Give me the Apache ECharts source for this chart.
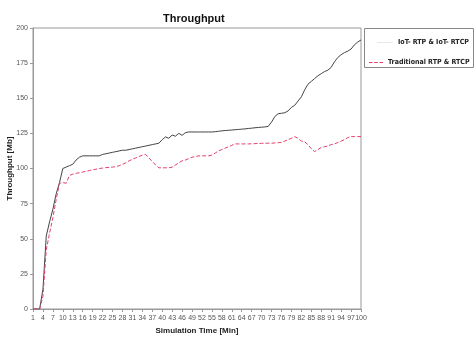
<!DOCTYPE html>
<html>
<head>
<meta charset="utf-8">
<script src="https://cdn.jsdelivr.net/npm/echarts@6/dist/echarts.min.js"></script>
<style>html,body{margin:0;padding:0;background:#fff}#c{width:474px;height:340px}</style>
</head>
<body>
<div id="c"></div>
<script>
var categories = [];
for (var k = 1; k <= 100; k++) categories.push(String(k));

var iotValues = [0,0,0,14,52,62,71,82,90,100,
101,102,103,106,108,109,109,109,109,109,
109,110,110.5,111,111.5,112,112.5,113,113,113.5,
114,114.5,115,115.5,116,116.5,117,117.5,118,120.5,
122.5,121.5,123.8,123,125,123.6,125.5,126,126,126,
126,126,126,126,126,126.2,126.5,126.8,127,127.2,
127.4,127.6,127.8,128,128.2,128.5,128.7,129,129.2,129.4,
129.6,130,133,137,139,139.3,139.7,141,143.5,145,
148,151,156,160,162,164,166,167.5,169,170,
172,176,179,181,182.5,183.5,185,188,190,191.5];

var tradValues = [0,0,0,9,42,54,65,78,89.5,90,
89.5,95,96,96.5,97,97.5,98,98.5,99,99.5,
100,100.3,100.6,100.8,101,101.3,102,103,104,105.5,
106.5,107.5,108.5,109.5,110,107.5,105,102.5,100.5,100.5,
100.5,100.5,101,102.5,104,105.5,106,107,108,108.5,
109,109,109,109,109.5,111,112.5,113.5,114.5,115.5,
116.5,117.5,117.5,117.5,117.5,117.5,117.6,117.7,117.8,117.9,
118,118,118,118.2,118.4,118.5,119.5,120.5,121.5,122.7,
121.5,119.5,119,117,114,112,113.5,115,115.5,116,
117,117.5,118.5,119.5,120.5,122,122.7,122.7,122.7,122.7];

var seriesNames = ['IoT- RTP & IoT- RTCP', 'Traditional RTP & RTCP'];
var yTicks = { min: 0, max: 200, interval: 25 };

var chart = echarts.init(document.getElementById('c'), null, { renderer: 'canvas' });
var fam = 'Liberation Sans';
var cond = '"DejaVu Sans Condensed", "Liberation Sans"';
chart.setOption({
  animation: false,
  backgroundColor: '#ffffff',
  title: {
    text: 'Throughput', left: 158, top: 8,
    textStyle: { fontFamily: fam, fontSize: 11, fontWeight: 'bold', color: '#111' }
  },
  grid: { left: 33, right: 113, top: 28, bottom: 31, show: true, borderColor: '#999', borderWidth: 1, backgroundColor: 'transparent', containLabel: false, outerBoundsMode: 'none' },
  graphic: [{
    type: 'rect', shape: { x: 364.5, y: 28.5, width: 109, height: 39 },
    style: { fill: 'none', stroke: '#888', lineWidth: 1 }
  }],
  legend: [{
    data: [{ name: seriesNames[0], icon: 'path://M0,0h16v1h-16z', itemStyle: { color: '#e8e8e8' } }],
    left: 372, top: 34, itemWidth: 16, itemHeight: 1, itemGap: 4,
    textStyle: { fontFamily: cond, fontSize: 7, fontWeight: 'bold', color: '#222' }
  }, {
    data: [{ name: seriesNames[1], icon: 'path://M0,0h4v1h-4z M6,0h4v1h-4z M12,0h4v1h-4z', itemStyle: { color: '#e2406c' } }],
    left: 364, top: 54, itemWidth: 14, itemHeight: 1,
    textStyle: { fontFamily: cond, fontSize: 7, fontWeight: 'bold', color: '#222' }
  }],
  xAxis: {
    type: 'category', data: categories, boundaryGap: false,
    name: 'Simulation Time [Min]', nameLocation: 'middle', nameGap: 15,
    nameTextStyle: { fontFamily: fam, fontSize: 8, fontWeight: 'bold', color: '#222' },
    axisLine: { lineStyle: { color: '#999' } },
    axisTick: { show: true, interval: 2, length: 3, lineStyle: { color: '#999' } },
    axisLabel: { interval: 2, fontFamily: fam, fontSize: 7, color: '#555', margin: 6 },
    splitLine: { show: false }
  },
  yAxis: {
    type: 'value', min: yTicks.min, max: yTicks.max, interval: yTicks.interval,
    name: 'Throughput [Mb]', nameLocation: 'middle', nameGap: 19, nameRotate: 90, nameMoveOverlap: false,
    nameTextStyle: { fontFamily: fam, fontSize: 8, fontWeight: 'bold', color: '#222' },
    axisLine: { show: true, lineStyle: { color: '#999' } },
    axisTick: { show: true, length: 3, lineStyle: { color: '#999' } },
    axisLabel: { fontFamily: fam, fontSize: 7, color: '#555', margin: 5 },
    splitLine: { show: false }
  },
  series: [{
    name: seriesNames[0], type: 'line', data: iotValues, symbol: 'none', smooth: false,
    color: '#444',
    lineStyle: { color: '#444', width: 1 }
  }, {
    name: seriesNames[1], type: 'line', data: tradValues, symbol: 'none',
    color: '#e2406c',
    lineStyle: { color: '#e2406c', width: 1, type: [4, 2] }
  }]
});
</script>
</body>
</html>
